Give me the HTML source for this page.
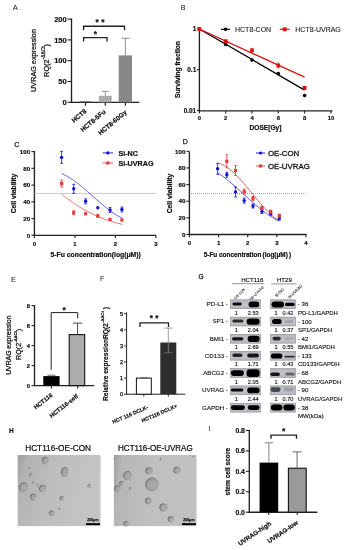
<!DOCTYPE html><html><head><meta charset="utf-8"><style>
html,body{margin:0;padding:0;background:#fff;width:344px;height:550px;overflow:hidden}
svg{display:block;will-change:transform}
text{font-family:"Liberation Sans",sans-serif}
</style></head><body>
<svg width="344" height="550" viewBox="0 0 344 550">
<text x="12.8" y="10.3" font-size="7.6" text-anchor="start" fill="#111">A</text>
<line x1="71.5" y1="18.5" x2="71.5" y2="102.8" stroke="#222" stroke-width="1.35"/>
<line x1="70.9" y1="102.3" x2="139.3" y2="102.3" stroke="#222" stroke-width="1.35"/>
<line x1="67.5" y1="102.3" x2="71.5" y2="102.3" stroke="#222" stroke-width="1.1"/>
<text x="66.7" y="104.89999999999999" font-size="7.5" font-weight="bold" text-anchor="end" fill="#111" stroke="#111" stroke-width="0.2">0</text>
<line x1="67.5" y1="81.5" x2="71.5" y2="81.5" stroke="#222" stroke-width="1.1"/>
<text x="66.7" y="84.1" font-size="7.5" font-weight="bold" text-anchor="end" fill="#111" stroke="#111" stroke-width="0.2">50</text>
<line x1="67.5" y1="60.699999999999996" x2="71.5" y2="60.699999999999996" stroke="#222" stroke-width="1.1"/>
<text x="66.7" y="63.3" font-size="7.5" font-weight="bold" text-anchor="end" fill="#111" stroke="#111" stroke-width="0.2">100</text>
<line x1="67.5" y1="39.89999999999999" x2="71.5" y2="39.89999999999999" stroke="#222" stroke-width="1.1"/>
<text x="66.7" y="42.49999999999999" font-size="7.5" font-weight="bold" text-anchor="end" fill="#111" stroke="#111" stroke-width="0.2">150</text>
<line x1="67.5" y1="19.099999999999994" x2="71.5" y2="19.099999999999994" stroke="#222" stroke-width="1.1"/>
<text x="66.7" y="21.699999999999996" font-size="7.5" font-weight="bold" text-anchor="end" fill="#111" stroke="#111" stroke-width="0.2">200</text>
<line x1="85.5" y1="102.3" x2="85.5" y2="105.8" stroke="#222" stroke-width="1.2"/>
<line x1="105.3" y1="102.3" x2="105.3" y2="105.8" stroke="#222" stroke-width="1.2"/>
<line x1="125.4" y1="102.3" x2="125.4" y2="105.8" stroke="#222" stroke-width="1.2"/>
<rect x="79.5" y="101.39999999999999" width="12" height="0.9" fill="#555" stroke="none" stroke-width="1"/>
<rect x="98.8" y="95.8" width="12.9" height="6.5" fill="#ababab" stroke="none" stroke-width="1"/>
<rect x="118.7" y="55.4" width="13.3" height="46.9" fill="#878787" stroke="none" stroke-width="1"/>
<line x1="105.3" y1="91.4" x2="105.3" y2="95.8" stroke="#888" stroke-width="0.9"/>
<line x1="101.8" y1="91.4" x2="108.8" y2="91.4" stroke="#888" stroke-width="0.9"/>
<line x1="125.4" y1="38.3" x2="125.4" y2="55.4" stroke="#888" stroke-width="0.9"/>
<line x1="121.5" y1="38.3" x2="129.7" y2="38.3" stroke="#888" stroke-width="0.9"/>
<polyline points="83.60,30.30 83.60,26.20 124.50,26.20 124.50,30.30" fill="none" stroke="#222" stroke-width="1.35"/>
<polyline points="83.60,41.50 83.60,37.60 107.00,37.60 107.00,41.50" fill="none" stroke="#222" stroke-width="1.35"/>
<text x="100.1" y="25.2" font-size="8.5" font-weight="bold" text-anchor="middle" fill="#111" stroke="#111" stroke-width="0.2">* *</text>
<text x="95.4" y="36.8" font-size="8.5" font-weight="bold" text-anchor="middle" fill="#111" stroke="#111" stroke-width="0.2">*</text>
<text x="36.4" y="60.5" font-size="7.26" text-anchor="middle" fill="#111" stroke="#111" stroke-width="0.25" transform="translate(36.4 60.5) rotate(-90) translate(-36.4 -60.5)">UVRAG expression</text>
<text x="48.6" y="60.4" font-size="7.3" text-anchor="middle" fill="#111" stroke="#111" stroke-width="0.25" transform="translate(48.6 60.4) rotate(-90) translate(-48.6 -60.4)">RQ(2<tspan font-size="4.9" dy="-3.9">-ΔΔCt</tspan><tspan dy="3.9">)</tspan></text>
<text x="87.0" y="112.0" font-size="6.5" font-weight="bold" text-anchor="end" fill="#111" stroke="#111" stroke-width="0.2" transform="translate(87.0 112.0) rotate(-40) translate(-87.0 -112.0)">HCT8</text>
<text x="106.2" y="112.5" font-size="6.5" font-weight="bold" text-anchor="end" fill="#111" stroke="#111" stroke-width="0.2" transform="translate(106.2 112.5) rotate(-40) translate(-106.2 -112.5)">HCT8-5Fu</text>
<text x="127.3" y="113.0" font-size="6.5" font-weight="bold" text-anchor="end" fill="#111" stroke="#111" stroke-width="0.2" transform="translate(127.3 113.0) rotate(-40) translate(-127.3 -113.0)">HCT8-60Gy</text>
<text x="180.8" y="10.0" font-size="7.2" text-anchor="start" fill="#111">B</text>
<line x1="199.4" y1="28.5" x2="199.4" y2="111.4" stroke="#222" stroke-width="1.35"/>
<line x1="198.8" y1="110.9" x2="332.5" y2="110.9" stroke="#222" stroke-width="1.35"/>
<line x1="196.9" y1="29.0" x2="199.4" y2="29.0" stroke="#222" stroke-width="1.1"/>
<text x="196.20000000000002" y="31.2" font-size="6.4" font-weight="bold" text-anchor="end" fill="#111" stroke="#111" stroke-width="0.2">1</text>
<line x1="196.9" y1="69.7" x2="199.4" y2="69.7" stroke="#222" stroke-width="1.1"/>
<text x="196.20000000000002" y="71.9" font-size="6.4" font-weight="bold" text-anchor="end" fill="#111" stroke="#111" stroke-width="0.2">0.1</text>
<line x1="196.9" y1="110.4" x2="199.4" y2="110.4" stroke="#222" stroke-width="1.1"/>
<text x="196.20000000000002" y="112.60000000000001" font-size="6.4" font-weight="bold" text-anchor="end" fill="#111" stroke="#111" stroke-width="0.2">0.01</text>
<line x1="199.4" y1="110.9" x2="199.4" y2="113.4" stroke="#222" stroke-width="1.1"/>
<text x="199.4" y="120.4" font-size="5.8" font-weight="bold" text-anchor="middle" fill="#111" stroke="#111" stroke-width="0.2">0</text>
<line x1="225.70000000000002" y1="110.9" x2="225.70000000000002" y2="113.4" stroke="#222" stroke-width="1.1"/>
<text x="225.70000000000002" y="120.4" font-size="5.8" font-weight="bold" text-anchor="middle" fill="#111" stroke="#111" stroke-width="0.2">2</text>
<line x1="252.0" y1="110.9" x2="252.0" y2="113.4" stroke="#222" stroke-width="1.1"/>
<text x="252.0" y="120.4" font-size="5.8" font-weight="bold" text-anchor="middle" fill="#111" stroke="#111" stroke-width="0.2">4</text>
<line x1="278.3" y1="110.9" x2="278.3" y2="113.4" stroke="#222" stroke-width="1.1"/>
<text x="278.3" y="120.4" font-size="5.8" font-weight="bold" text-anchor="middle" fill="#111" stroke="#111" stroke-width="0.2">6</text>
<line x1="304.6" y1="110.9" x2="304.6" y2="113.4" stroke="#222" stroke-width="1.1"/>
<text x="304.6" y="120.4" font-size="5.8" font-weight="bold" text-anchor="middle" fill="#111" stroke="#111" stroke-width="0.2">8</text>
<line x1="330.9" y1="110.9" x2="330.9" y2="113.4" stroke="#222" stroke-width="1.1"/>
<text x="330.9" y="120.4" font-size="5.8" font-weight="bold" text-anchor="middle" fill="#111" stroke="#111" stroke-width="0.2">10</text>
<text x="265.5" y="130" font-size="6.6" font-weight="bold" text-anchor="middle" fill="#111" stroke="#111" stroke-width="0.2">DOSE[Gy]</text>
<text x="180.0" y="69.5" font-size="6.7" font-weight="bold" text-anchor="middle" fill="#111" stroke="#111" stroke-width="0.2" transform="translate(180.0 69.5) rotate(-90) translate(-180.0 -69.5)">Surviving fraction</text>
<line x1="199.4" y1="29.0" x2="304.6" y2="90.1" stroke="#000" stroke-width="1.3"/>
<line x1="199.4" y1="29.0" x2="304.6" y2="77.2" stroke="#e01010" stroke-width="1.3"/>
<circle cx="225.70000000000002" cy="44.5" r="1.8" fill="#000"/>
<circle cx="252.0" cy="60.1" r="1.8" fill="#000"/>
<circle cx="278.3" cy="73.6" r="1.8" fill="#000"/>
<circle cx="304.6" cy="95.5" r="1.8" fill="#000"/>
<rect x="197.5" y="27.1" width="3.8" height="3.8" fill="#e01010" stroke="none" stroke-width="1"/>
<line x1="225.70000000000002" y1="39.0" x2="225.70000000000002" y2="43.599999999999994" stroke="#e01010" stroke-width="0.8"/>
<rect x="223.8" y="39.4" width="3.8" height="3.8" fill="#e01010" stroke="none" stroke-width="1"/>
<line x1="252.0" y1="47.8" x2="252.0" y2="52.8" stroke="#e01010" stroke-width="0.8"/>
<rect x="250.1" y="48.4" width="3.8" height="3.8" fill="#e01010" stroke="none" stroke-width="1"/>
<line x1="278.3" y1="62.2" x2="278.3" y2="68.8" stroke="#e01010" stroke-width="0.8"/>
<rect x="276.40000000000003" y="63.6" width="3.8" height="3.8" fill="#e01010" stroke="none" stroke-width="1"/>
<line x1="304.6" y1="85.80000000000001" x2="304.6" y2="90.0" stroke="#e01010" stroke-width="0.8"/>
<rect x="302.70000000000005" y="86.0" width="3.8" height="3.8" fill="#e01010" stroke="none" stroke-width="1"/>
<circle cx="199.4" cy="29" r="1.6" fill="#e01010"/>
<line x1="221" y1="29.3" x2="230" y2="29.3" stroke="#000" stroke-width="1.2"/>
<circle cx="225.5" cy="29.3" r="1.8" fill="#000"/>
<text x="235" y="31.8" font-size="7" text-anchor="start" fill="#222" stroke="#222" stroke-width="0.1">HCT8-CON</text>
<line x1="279.7" y1="29.3" x2="289.6" y2="29.3" stroke="#e01010" stroke-width="1.2"/>
<rect x="282.8" y="27.4" width="3.8" height="3.8" fill="#e01010" stroke="none" stroke-width="1"/>
<text x="295.3" y="31.8" font-size="7" text-anchor="start" fill="#222" stroke="#222" stroke-width="0.1">HCT8-UVRAG</text>
<text x="14.2" y="147.2" font-size="7" text-anchor="start" fill="#111" stroke="#111" stroke-width="0.25">C</text>
<line x1="34.4" y1="151.1" x2="34.4" y2="235.8" stroke="#222" stroke-width="1.35"/>
<line x1="33.8" y1="235.3" x2="156" y2="235.3" stroke="#222" stroke-width="1.35"/>
<line x1="31.4" y1="235.3" x2="34.4" y2="235.3" stroke="#222" stroke-width="1.1"/>
<text x="30.2" y="237.5" font-size="6.2" font-weight="bold" text-anchor="end" fill="#111" stroke="#111" stroke-width="0.2">0</text>
<line x1="31.4" y1="218.56" x2="34.4" y2="218.56" stroke="#222" stroke-width="1.1"/>
<text x="30.2" y="220.76" font-size="6.2" font-weight="bold" text-anchor="end" fill="#111" stroke="#111" stroke-width="0.2">20</text>
<line x1="31.4" y1="201.82000000000002" x2="34.4" y2="201.82000000000002" stroke="#222" stroke-width="1.1"/>
<text x="30.2" y="204.02" font-size="6.2" font-weight="bold" text-anchor="end" fill="#111" stroke="#111" stroke-width="0.2">40</text>
<line x1="31.4" y1="185.08" x2="34.4" y2="185.08" stroke="#222" stroke-width="1.1"/>
<text x="30.2" y="187.28" font-size="6.2" font-weight="bold" text-anchor="end" fill="#111" stroke="#111" stroke-width="0.2">60</text>
<line x1="31.4" y1="168.34000000000003" x2="34.4" y2="168.34000000000003" stroke="#222" stroke-width="1.1"/>
<text x="30.2" y="170.54000000000002" font-size="6.2" font-weight="bold" text-anchor="end" fill="#111" stroke="#111" stroke-width="0.2">80</text>
<line x1="31.4" y1="151.60000000000002" x2="34.4" y2="151.60000000000002" stroke="#222" stroke-width="1.1"/>
<text x="30.2" y="153.8" font-size="6.2" font-weight="bold" text-anchor="end" fill="#111" stroke="#111" stroke-width="0.2">100</text>
<line x1="34.4" y1="235.3" x2="34.4" y2="238.10000000000002" stroke="#222" stroke-width="1.1"/>
<text x="34.4" y="245.9" font-size="6.0" font-weight="bold" text-anchor="middle" fill="#111" stroke="#111" stroke-width="0.2">0</text>
<line x1="74.9" y1="235.3" x2="74.9" y2="238.10000000000002" stroke="#222" stroke-width="1.1"/>
<text x="74.9" y="245.9" font-size="6.0" font-weight="bold" text-anchor="middle" fill="#111" stroke="#111" stroke-width="0.2">1</text>
<line x1="115.4" y1="235.3" x2="115.4" y2="238.10000000000002" stroke="#222" stroke-width="1.1"/>
<text x="115.4" y="245.9" font-size="6.0" font-weight="bold" text-anchor="middle" fill="#111" stroke="#111" stroke-width="0.2">2</text>
<line x1="155.9" y1="235.3" x2="155.9" y2="238.10000000000002" stroke="#222" stroke-width="1.1"/>
<text x="155.9" y="245.9" font-size="6.0" font-weight="bold" text-anchor="middle" fill="#111" stroke="#111" stroke-width="0.2">3</text>
<text x="95.7" y="257" font-size="6.8" font-weight="bold" text-anchor="middle" fill="#111" stroke="#111" stroke-width="0.2">5-Fu concentration(log(μM))</text>
<text x="16.4" y="193.5" font-size="6.8" font-weight="bold" text-anchor="middle" fill="#111" stroke="#111" stroke-width="0.2" transform="translate(16.4 193.5) rotate(-90) translate(-16.4 -193.5)">Cell viability</text>
<line x1="34.4" y1="193.45000000000002" x2="156" y2="193.45000000000002" stroke="#c4c4c4" stroke-width="0.9"/>
<polyline points="61.60,173.52 63.12,174.19 64.64,174.92 66.16,175.71 67.68,176.57 69.20,177.48 70.72,178.44 72.24,179.45 73.76,180.51 75.28,181.61 76.80,182.74 78.32,183.92 79.84,185.12 81.36,186.36 82.88,187.62 84.40,188.90 85.92,190.20 87.44,191.51 88.96,192.84 90.48,194.18 92.00,195.52 93.52,196.86 95.04,198.20 96.56,199.54 98.08,200.87 99.60,202.18 101.12,203.48 102.64,204.77 104.16,206.03 105.68,207.26 107.20,208.47 108.72,209.65 110.24,210.79 111.76,211.89 113.28,212.95 114.80,213.96 116.32,214.93 117.84,215.84 119.36,216.70 120.88,217.50 122.40,218.23" fill="none" stroke="#5050e8" stroke-width="0.9"/>
<polyline points="61.60,194.14 63.12,195.37 64.64,196.57 66.16,197.75 67.68,198.89 69.20,200.01 70.72,201.11 72.24,202.17 73.76,203.22 75.28,204.23 76.80,205.22 78.32,206.19 79.84,207.13 81.36,208.04 82.88,208.93 84.40,209.80 85.92,210.64 87.44,211.46 88.96,212.26 90.48,213.03 92.00,213.78 93.52,214.51 95.04,215.21 96.56,215.90 98.08,216.56 99.60,217.20 101.12,217.81 102.64,218.41 104.16,218.99 105.68,219.54 107.20,220.08 108.72,220.59 110.24,221.09 111.76,221.56 113.28,222.02 114.80,222.46 116.32,222.87 117.84,223.27 119.36,223.66 120.88,224.02 122.40,224.36" fill="none" stroke="#ee6060" stroke-width="0.9"/>
<line x1="61.6" y1="151.4" x2="61.6" y2="163.4" stroke="#1010e0" stroke-width="0.8"/>
<line x1="60.2" y1="151.4" x2="63.0" y2="151.4" stroke="#1010e0" stroke-width="0.8"/>
<line x1="60.2" y1="163.4" x2="63.0" y2="163.4" stroke="#1010e0" stroke-width="0.8"/>
<circle cx="61.6" cy="157.4" r="1.7" fill="#1010e0"/>
<line x1="73.7" y1="184.3" x2="73.7" y2="193.3" stroke="#1010e0" stroke-width="0.8"/>
<line x1="72.3" y1="184.3" x2="75.10000000000001" y2="184.3" stroke="#1010e0" stroke-width="0.8"/>
<line x1="72.3" y1="193.3" x2="75.10000000000001" y2="193.3" stroke="#1010e0" stroke-width="0.8"/>
<circle cx="73.7" cy="188.8" r="1.7" fill="#1010e0"/>
<line x1="85.6" y1="198.8" x2="85.6" y2="203.8" stroke="#1010e0" stroke-width="0.8"/>
<line x1="84.19999999999999" y1="198.8" x2="87.0" y2="198.8" stroke="#1010e0" stroke-width="0.8"/>
<line x1="84.19999999999999" y1="203.8" x2="87.0" y2="203.8" stroke="#1010e0" stroke-width="0.8"/>
<circle cx="85.6" cy="201.3" r="1.7" fill="#1010e0"/>
<circle cx="97.8" cy="207.7" r="1.7" fill="#1010e0"/>
<line x1="110" y1="207.5" x2="110" y2="212.5" stroke="#1010e0" stroke-width="0.8"/>
<line x1="108.6" y1="207.5" x2="111.4" y2="207.5" stroke="#1010e0" stroke-width="0.8"/>
<line x1="108.6" y1="212.5" x2="111.4" y2="212.5" stroke="#1010e0" stroke-width="0.8"/>
<circle cx="110" cy="210" r="1.7" fill="#1010e0"/>
<line x1="121.9" y1="207.0" x2="121.9" y2="212.0" stroke="#1010e0" stroke-width="0.8"/>
<line x1="120.5" y1="207.0" x2="123.30000000000001" y2="207.0" stroke="#1010e0" stroke-width="0.8"/>
<line x1="120.5" y1="212.0" x2="123.30000000000001" y2="212.0" stroke="#1010e0" stroke-width="0.8"/>
<circle cx="121.9" cy="209.5" r="1.7" fill="#1010e0"/>
<line x1="61.6" y1="180.0" x2="61.6" y2="187.0" stroke="#e83a3a" stroke-width="0.8"/>
<line x1="60.2" y1="180.0" x2="63.0" y2="180.0" stroke="#e83a3a" stroke-width="0.8"/>
<line x1="60.2" y1="187.0" x2="63.0" y2="187.0" stroke="#e83a3a" stroke-width="0.8"/>
<rect x="60.0" y="181.9" width="3.2" height="3.2" fill="#e83a3a" stroke="none" stroke-width="1"/>
<line x1="73.7" y1="210.7" x2="73.7" y2="214.7" stroke="#e83a3a" stroke-width="0.8"/>
<line x1="72.3" y1="210.7" x2="75.10000000000001" y2="210.7" stroke="#e83a3a" stroke-width="0.8"/>
<line x1="72.3" y1="214.7" x2="75.10000000000001" y2="214.7" stroke="#e83a3a" stroke-width="0.8"/>
<rect x="72.10000000000001" y="211.1" width="3.2" height="3.2" fill="#e83a3a" stroke="none" stroke-width="1"/>
<rect x="84.0" y="212.20000000000002" width="3.2" height="3.2" fill="#e83a3a" stroke="none" stroke-width="1"/>
<line x1="97.8" y1="214.4" x2="97.8" y2="217.4" stroke="#e83a3a" stroke-width="0.8"/>
<line x1="96.39999999999999" y1="214.4" x2="99.2" y2="214.4" stroke="#e83a3a" stroke-width="0.8"/>
<line x1="96.39999999999999" y1="217.4" x2="99.2" y2="217.4" stroke="#e83a3a" stroke-width="0.8"/>
<rect x="96.2" y="214.3" width="3.2" height="3.2" fill="#e83a3a" stroke="none" stroke-width="1"/>
<rect x="108.4" y="217.8" width="3.2" height="3.2" fill="#e83a3a" stroke="none" stroke-width="1"/>
<rect x="120.30000000000001" y="218.4" width="3.2" height="3.2" fill="#e83a3a" stroke="none" stroke-width="1"/>
<line x1="102.6" y1="152.9" x2="113" y2="152.9" stroke="#1010e0" stroke-width="0.9"/>
<circle cx="107.8" cy="152.9" r="1.6" fill="#1010e0"/>
<text x="118.4" y="155.5" font-size="7.2" font-weight="bold" text-anchor="start" fill="#111" stroke="#111" stroke-width="0.2">Si-NC</text>
<line x1="102.6" y1="163" x2="113" y2="163" stroke="#e83a3a" stroke-width="0.9"/>
<rect x="106.2" y="161.4" width="3.2" height="3.2" fill="#e83a3a" stroke="none" stroke-width="1"/>
<text x="118.4" y="165.6" font-size="7.2" font-weight="bold" text-anchor="start" fill="#111" stroke="#111" stroke-width="0.2">Si-UVRAG</text>
<text x="182.8" y="143.6" font-size="7" text-anchor="start" fill="#111" stroke="#111" stroke-width="0.25">D</text>
<line x1="189.4" y1="151.5" x2="189.4" y2="235.0" stroke="#222" stroke-width="1.35"/>
<line x1="188.8" y1="234.5" x2="306.5" y2="234.5" stroke="#222" stroke-width="1.35"/>
<line x1="186.4" y1="234.5" x2="189.4" y2="234.5" stroke="#222" stroke-width="1.1"/>
<text x="185.4" y="236.7" font-size="6.2" font-weight="bold" text-anchor="end" fill="#111" stroke="#111" stroke-width="0.2">0</text>
<line x1="186.4" y1="217.86" x2="189.4" y2="217.86" stroke="#222" stroke-width="1.1"/>
<text x="185.4" y="220.06" font-size="6.2" font-weight="bold" text-anchor="end" fill="#111" stroke="#111" stroke-width="0.2">20</text>
<line x1="186.4" y1="201.22" x2="189.4" y2="201.22" stroke="#222" stroke-width="1.1"/>
<text x="185.4" y="203.42" font-size="6.2" font-weight="bold" text-anchor="end" fill="#111" stroke="#111" stroke-width="0.2">40</text>
<line x1="186.4" y1="184.58" x2="189.4" y2="184.58" stroke="#222" stroke-width="1.1"/>
<text x="185.4" y="186.78" font-size="6.2" font-weight="bold" text-anchor="end" fill="#111" stroke="#111" stroke-width="0.2">60</text>
<line x1="186.4" y1="167.94" x2="189.4" y2="167.94" stroke="#222" stroke-width="1.1"/>
<text x="185.4" y="170.14" font-size="6.2" font-weight="bold" text-anchor="end" fill="#111" stroke="#111" stroke-width="0.2">80</text>
<line x1="186.4" y1="151.3" x2="189.4" y2="151.3" stroke="#222" stroke-width="1.1"/>
<text x="185.4" y="153.5" font-size="6.2" font-weight="bold" text-anchor="end" fill="#111" stroke="#111" stroke-width="0.2">100</text>
<line x1="189.4" y1="234.5" x2="189.4" y2="237.3" stroke="#222" stroke-width="1.1"/>
<text x="189.4" y="244.7" font-size="6.0" font-weight="bold" text-anchor="middle" fill="#111" stroke="#111" stroke-width="0.2">0</text>
<line x1="218.55" y1="234.5" x2="218.55" y2="237.3" stroke="#222" stroke-width="1.1"/>
<text x="218.55" y="244.7" font-size="6.0" font-weight="bold" text-anchor="middle" fill="#111" stroke="#111" stroke-width="0.2">1</text>
<line x1="247.7" y1="234.5" x2="247.7" y2="237.3" stroke="#222" stroke-width="1.1"/>
<text x="247.7" y="244.7" font-size="6.0" font-weight="bold" text-anchor="middle" fill="#111" stroke="#111" stroke-width="0.2">2</text>
<line x1="276.85" y1="234.5" x2="276.85" y2="237.3" stroke="#222" stroke-width="1.1"/>
<text x="276.85" y="244.7" font-size="6.0" font-weight="bold" text-anchor="middle" fill="#111" stroke="#111" stroke-width="0.2">3</text>
<line x1="306.0" y1="234.5" x2="306.0" y2="237.3" stroke="#222" stroke-width="1.1"/>
<text x="306.0" y="244.7" font-size="6.0" font-weight="bold" text-anchor="middle" fill="#111" stroke="#111" stroke-width="0.2">4</text>
<text x="247.5" y="256.8" font-size="6.4" font-weight="bold" text-anchor="middle" fill="#111" stroke="#111" stroke-width="0.2">5-Fu concentration (log(μM) )</text>
<text x="172.3" y="193.5" font-size="6.8" font-weight="bold" text-anchor="middle" fill="#111" stroke="#111" stroke-width="0.2" transform="translate(172.3 193.5) rotate(-90) translate(-172.3 -193.5)">Cell viability</text>
<line x1="191" y1="193.6" x2="305.6" y2="193.6" stroke="#888" stroke-width="0.9" stroke-dasharray="1 1"/>
<polyline points="217.60,163.07 219.13,163.45 220.66,163.96 222.19,164.60 223.72,165.36 225.25,166.23 226.78,167.20 228.31,168.28 229.84,169.45 231.37,170.71 232.90,172.06 234.43,173.48 235.96,174.97 237.49,176.52 239.02,178.13 240.55,179.79 242.08,181.50 243.61,183.25 245.14,185.04 246.67,186.85 248.20,188.68 249.73,190.53 251.26,192.38 252.79,194.24 254.32,196.10 255.85,197.95 257.38,199.78 258.91,201.59 260.44,203.38 261.97,205.13 263.50,206.84 265.03,208.51 266.56,210.13 268.09,211.68 269.62,213.18 271.15,214.60 272.68,215.95 274.21,217.22 275.74,218.39 277.27,219.48 278.80,220.46" fill="none" stroke="#c85050" stroke-width="0.9"/>
<polyline points="217.60,172.72 219.13,173.74 220.66,174.81 222.19,175.92 223.72,177.07 225.25,178.25 226.78,179.46 228.31,180.70 229.84,181.97 231.37,183.26 232.90,184.57 234.43,185.90 235.96,187.25 237.49,188.62 239.02,189.99 240.55,191.37 242.08,192.76 243.61,194.15 245.14,195.54 246.67,196.93 248.20,198.31 249.73,199.69 251.26,201.06 252.79,202.41 254.32,203.75 255.85,205.08 257.38,206.38 258.91,207.66 260.44,208.91 261.97,210.14 263.50,211.34 265.03,212.50 266.56,213.63 268.09,214.72 269.62,215.77 271.15,216.77 272.68,217.73 274.21,218.64 275.74,219.50 277.27,220.30 278.80,221.05" fill="none" stroke="#4848c8" stroke-width="0.9"/>
<line x1="217.6" y1="163.3" x2="217.6" y2="174.3" stroke="#1010e0" stroke-width="0.8"/>
<line x1="216.2" y1="163.3" x2="219.0" y2="163.3" stroke="#1010e0" stroke-width="0.8"/>
<line x1="216.2" y1="174.3" x2="219.0" y2="174.3" stroke="#1010e0" stroke-width="0.8"/>
<circle cx="217.6" cy="168.8" r="1.7" fill="#1010e0"/>
<line x1="226.8" y1="172.3" x2="226.8" y2="177.3" stroke="#1010e0" stroke-width="0.8"/>
<line x1="225.4" y1="172.3" x2="228.20000000000002" y2="172.3" stroke="#1010e0" stroke-width="0.8"/>
<line x1="225.4" y1="177.3" x2="228.20000000000002" y2="177.3" stroke="#1010e0" stroke-width="0.8"/>
<circle cx="226.8" cy="174.8" r="1.7" fill="#1010e0"/>
<line x1="235.5" y1="186.9" x2="235.5" y2="196.9" stroke="#1010e0" stroke-width="0.8"/>
<line x1="234.1" y1="186.9" x2="236.9" y2="186.9" stroke="#1010e0" stroke-width="0.8"/>
<line x1="234.1" y1="196.9" x2="236.9" y2="196.9" stroke="#1010e0" stroke-width="0.8"/>
<circle cx="235.5" cy="191.9" r="1.7" fill="#1010e0"/>
<line x1="244.2" y1="198.1" x2="244.2" y2="203.1" stroke="#1010e0" stroke-width="0.8"/>
<line x1="242.79999999999998" y1="198.1" x2="245.6" y2="198.1" stroke="#1010e0" stroke-width="0.8"/>
<line x1="242.79999999999998" y1="203.1" x2="245.6" y2="203.1" stroke="#1010e0" stroke-width="0.8"/>
<circle cx="244.2" cy="200.6" r="1.7" fill="#1010e0"/>
<line x1="253" y1="204" x2="253" y2="208" stroke="#1010e0" stroke-width="0.8"/>
<line x1="251.6" y1="204" x2="254.4" y2="204" stroke="#1010e0" stroke-width="0.8"/>
<line x1="251.6" y1="208" x2="254.4" y2="208" stroke="#1010e0" stroke-width="0.8"/>
<circle cx="253" cy="206" r="1.7" fill="#1010e0"/>
<line x1="261.9" y1="209.6" x2="261.9" y2="213.6" stroke="#1010e0" stroke-width="0.8"/>
<line x1="260.5" y1="209.6" x2="263.29999999999995" y2="209.6" stroke="#1010e0" stroke-width="0.8"/>
<line x1="260.5" y1="213.6" x2="263.29999999999995" y2="213.6" stroke="#1010e0" stroke-width="0.8"/>
<circle cx="261.9" cy="211.6" r="1.7" fill="#1010e0"/>
<line x1="270.7" y1="212.2" x2="270.7" y2="215.2" stroke="#1010e0" stroke-width="0.8"/>
<line x1="269.3" y1="212.2" x2="272.09999999999997" y2="212.2" stroke="#1010e0" stroke-width="0.8"/>
<line x1="269.3" y1="215.2" x2="272.09999999999997" y2="215.2" stroke="#1010e0" stroke-width="0.8"/>
<circle cx="270.7" cy="213.7" r="1.7" fill="#1010e0"/>
<line x1="279.3" y1="217.1" x2="279.3" y2="220.1" stroke="#1010e0" stroke-width="0.8"/>
<line x1="277.90000000000003" y1="217.1" x2="280.7" y2="217.1" stroke="#1010e0" stroke-width="0.8"/>
<line x1="277.90000000000003" y1="220.1" x2="280.7" y2="220.1" stroke="#1010e0" stroke-width="0.8"/>
<circle cx="279.3" cy="218.6" r="1.7" fill="#1010e0"/>
<line x1="226.8" y1="154.8" x2="226.8" y2="167.8" stroke="#e83a3a" stroke-width="0.8"/>
<line x1="225.4" y1="154.8" x2="228.20000000000002" y2="154.8" stroke="#e83a3a" stroke-width="0.8"/>
<line x1="225.4" y1="167.8" x2="228.20000000000002" y2="167.8" stroke="#e83a3a" stroke-width="0.8"/>
<rect x="225.20000000000002" y="159.70000000000002" width="3.2" height="3.2" fill="#e83a3a" stroke="none" stroke-width="1"/>
<line x1="235.5" y1="165.6" x2="235.5" y2="175.6" stroke="#e83a3a" stroke-width="0.8"/>
<line x1="234.1" y1="165.6" x2="236.9" y2="165.6" stroke="#e83a3a" stroke-width="0.8"/>
<line x1="234.1" y1="175.6" x2="236.9" y2="175.6" stroke="#e83a3a" stroke-width="0.8"/>
<rect x="233.9" y="169.0" width="3.2" height="3.2" fill="#e83a3a" stroke="none" stroke-width="1"/>
<line x1="244.2" y1="189.0" x2="244.2" y2="194.0" stroke="#e83a3a" stroke-width="0.8"/>
<line x1="242.79999999999998" y1="189.0" x2="245.6" y2="189.0" stroke="#e83a3a" stroke-width="0.8"/>
<line x1="242.79999999999998" y1="194.0" x2="245.6" y2="194.0" stroke="#e83a3a" stroke-width="0.8"/>
<rect x="242.6" y="189.9" width="3.2" height="3.2" fill="#e83a3a" stroke="none" stroke-width="1"/>
<line x1="253" y1="196.5" x2="253" y2="200.5" stroke="#e83a3a" stroke-width="0.8"/>
<line x1="251.6" y1="196.5" x2="254.4" y2="196.5" stroke="#e83a3a" stroke-width="0.8"/>
<line x1="251.6" y1="200.5" x2="254.4" y2="200.5" stroke="#e83a3a" stroke-width="0.8"/>
<rect x="251.4" y="196.9" width="3.2" height="3.2" fill="#e83a3a" stroke="none" stroke-width="1"/>
<line x1="261.9" y1="206.3" x2="261.9" y2="209.3" stroke="#e83a3a" stroke-width="0.8"/>
<line x1="260.5" y1="206.3" x2="263.29999999999995" y2="206.3" stroke="#e83a3a" stroke-width="0.8"/>
<line x1="260.5" y1="209.3" x2="263.29999999999995" y2="209.3" stroke="#e83a3a" stroke-width="0.8"/>
<rect x="260.29999999999995" y="206.20000000000002" width="3.2" height="3.2" fill="#e83a3a" stroke="none" stroke-width="1"/>
<line x1="270.7" y1="210.1" x2="270.7" y2="213.1" stroke="#e83a3a" stroke-width="0.8"/>
<line x1="269.3" y1="210.1" x2="272.09999999999997" y2="210.1" stroke="#e83a3a" stroke-width="0.8"/>
<line x1="269.3" y1="213.1" x2="272.09999999999997" y2="213.1" stroke="#e83a3a" stroke-width="0.8"/>
<rect x="269.09999999999997" y="210.0" width="3.2" height="3.2" fill="#e83a3a" stroke="none" stroke-width="1"/>
<line x1="279.3" y1="214.1" x2="279.3" y2="217.1" stroke="#e83a3a" stroke-width="0.8"/>
<line x1="277.90000000000003" y1="214.1" x2="280.7" y2="214.1" stroke="#e83a3a" stroke-width="0.8"/>
<line x1="277.90000000000003" y1="217.1" x2="280.7" y2="217.1" stroke="#e83a3a" stroke-width="0.8"/>
<rect x="277.7" y="214.0" width="3.2" height="3.2" fill="#e83a3a" stroke="none" stroke-width="1"/>
<line x1="256" y1="153" x2="265.3" y2="153" stroke="#1010e0" stroke-width="0.9"/>
<circle cx="260.5" cy="153" r="1.6" fill="#1010e0"/>
<text x="267.9" y="155.8" font-size="7.85" text-anchor="start" fill="#111" stroke="#111" stroke-width="0.3">OE-CON</text>
<line x1="256" y1="166" x2="265.3" y2="166" stroke="#e83a3a" stroke-width="0.9"/>
<rect x="258.9" y="164.4" width="3.2" height="3.2" fill="#e83a3a" stroke="none" stroke-width="1"/>
<text x="267.9" y="168.8" font-size="7.85" text-anchor="start" fill="#111" stroke="#111" stroke-width="0.3">OE-UVRAG</text>
<text x="11.0" y="281.7" font-size="7.2" text-anchor="start" fill="#111">E</text>
<line x1="34.5" y1="305.0" x2="34.5" y2="386.1" stroke="#222" stroke-width="1.35"/>
<line x1="33.9" y1="385.6" x2="94.2" y2="385.6" stroke="#222" stroke-width="1.35"/>
<line x1="31.5" y1="385.6" x2="34.5" y2="385.6" stroke="#222" stroke-width="1.1"/>
<text x="30.1" y="387.70000000000005" font-size="5.8" font-weight="bold" text-anchor="end" fill="#111" stroke="#111" stroke-width="0.2">0</text>
<line x1="31.5" y1="365.6" x2="34.5" y2="365.6" stroke="#222" stroke-width="1.1"/>
<text x="30.1" y="367.70000000000005" font-size="5.8" font-weight="bold" text-anchor="end" fill="#111" stroke="#111" stroke-width="0.2">2</text>
<line x1="31.5" y1="345.6" x2="34.5" y2="345.6" stroke="#222" stroke-width="1.1"/>
<text x="30.1" y="347.70000000000005" font-size="5.8" font-weight="bold" text-anchor="end" fill="#111" stroke="#111" stroke-width="0.2">4</text>
<line x1="31.5" y1="325.6" x2="34.5" y2="325.6" stroke="#222" stroke-width="1.1"/>
<text x="30.1" y="327.70000000000005" font-size="5.8" font-weight="bold" text-anchor="end" fill="#111" stroke="#111" stroke-width="0.2">6</text>
<line x1="31.5" y1="305.6" x2="34.5" y2="305.6" stroke="#222" stroke-width="1.1"/>
<text x="30.1" y="307.70000000000005" font-size="5.8" font-weight="bold" text-anchor="end" fill="#111" stroke="#111" stroke-width="0.2">8</text>
<line x1="51.4" y1="385.6" x2="51.4" y2="388.40000000000003" stroke="#222" stroke-width="1.1"/>
<line x1="77.6" y1="385.6" x2="77.6" y2="388.40000000000003" stroke="#222" stroke-width="1.1"/>
<rect x="43.3" y="376.1" width="16.3" height="9.5" fill="#000" stroke="none" stroke-width="1"/>
<line x1="47.5" y1="375.2" x2="55.5" y2="375.2" stroke="#444" stroke-width="0.8"/>
<rect x="69.2" y="334.6" width="15.5" height="51.0" fill="#acacac" stroke="#111" stroke-width="1.1"/>
<line x1="77.6" y1="323.1" x2="77.6" y2="334.1" stroke="#333" stroke-width="0.9"/>
<line x1="72.9" y1="323.1" x2="82.3" y2="323.1" stroke="#333" stroke-width="0.9"/>
<polyline points="51.20,369.80 51.20,312.60 77.70,312.60 77.70,318.40" fill="none" stroke="#222" stroke-width="1.0"/>
<text x="64.1" y="313.2" font-size="8.5" font-weight="bold" text-anchor="middle" fill="#111" stroke="#111" stroke-width="0.2">*</text>
<text x="11.2" y="345.2" font-size="6.85" text-anchor="middle" fill="#111" stroke="#111" stroke-width="0.25" transform="translate(11.2 345.2) rotate(-90) translate(-11.2 -345.2)">UVRAG expression</text>
<text x="21.2" y="344.4" font-size="7.2" text-anchor="middle" fill="#111" stroke="#111" stroke-width="0.25" transform="translate(21.2 344.4) rotate(-90) translate(-21.2 -344.4)">RQ(2<tspan font-size="4.3" dy="-3.8">-ΔΔCt</tspan><tspan dy="3.8">)</tspan></text>
<text x="53.1" y="396.0" font-size="6.0" font-weight="bold" text-anchor="end" fill="#111" stroke="#111" stroke-width="0.2" transform="translate(53.1 396.0) rotate(-38) translate(-53.1 -396.0)">HCT116</text>
<text x="78.6" y="397.0" font-size="6.0" font-weight="bold" text-anchor="end" fill="#111" stroke="#111" stroke-width="0.2" transform="translate(78.6 397.0) rotate(-38) translate(-78.6 -397.0)">HCT116-self</text>
<text x="99.9" y="280.6" font-size="7.0" text-anchor="start" fill="#111">F</text>
<line x1="126.6" y1="312.3" x2="126.6" y2="394.7" stroke="#222" stroke-width="1.0"/>
<line x1="126.0" y1="394.2" x2="185.3" y2="394.2" stroke="#222" stroke-width="1.0"/>
<line x1="124.0" y1="394.2" x2="126.6" y2="394.2" stroke="#222" stroke-width="0.9"/>
<text x="123.0" y="396.2" font-size="5.6" text-anchor="end" fill="#111" stroke="#111" stroke-width="0.25">0</text>
<line x1="124.0" y1="378.09999999999997" x2="126.6" y2="378.09999999999997" stroke="#222" stroke-width="0.9"/>
<text x="123.0" y="380.09999999999997" font-size="5.6" text-anchor="end" fill="#111" stroke="#111" stroke-width="0.25">1</text>
<line x1="124.0" y1="362.0" x2="126.6" y2="362.0" stroke="#222" stroke-width="0.9"/>
<text x="123.0" y="364.0" font-size="5.6" text-anchor="end" fill="#111" stroke="#111" stroke-width="0.25">2</text>
<line x1="124.0" y1="345.9" x2="126.6" y2="345.9" stroke="#222" stroke-width="0.9"/>
<text x="123.0" y="347.9" font-size="5.6" text-anchor="end" fill="#111" stroke="#111" stroke-width="0.25">3</text>
<line x1="124.0" y1="329.79999999999995" x2="126.6" y2="329.79999999999995" stroke="#222" stroke-width="0.9"/>
<text x="123.0" y="331.79999999999995" font-size="5.6" text-anchor="end" fill="#111" stroke="#111" stroke-width="0.25">4</text>
<line x1="124.0" y1="313.7" x2="126.6" y2="313.7" stroke="#222" stroke-width="0.9"/>
<text x="123.0" y="315.7" font-size="5.6" text-anchor="end" fill="#111" stroke="#111" stroke-width="0.25">5</text>
<line x1="143.8" y1="394.2" x2="143.8" y2="396.7" stroke="#222" stroke-width="0.9"/>
<line x1="168.3" y1="394.2" x2="168.3" y2="396.7" stroke="#222" stroke-width="0.9"/>
<rect x="136.4" y="378.09999999999997" width="14.9" height="16.100000000000023" fill="#fff" stroke="#111" stroke-width="1.0"/>
<line x1="140.5" y1="377.49999999999994" x2="147.5" y2="377.49999999999994" stroke="#555" stroke-width="0.7"/>
<rect x="160.3" y="342.5" width="16" height="51.69999999999999" fill="#2e2e2e" stroke="none" stroke-width="1"/>
<line x1="168.3" y1="328.1" x2="168.3" y2="352.8" stroke="#888" stroke-width="0.8"/>
<line x1="164" y1="328.1" x2="172.6" y2="328.1" stroke="#888" stroke-width="0.8"/>
<line x1="164" y1="352.8" x2="172.6" y2="352.8" stroke="#777" stroke-width="0.7"/>
<polyline points="140.00,326.90 140.00,322.90 168.50,322.90 168.50,326.90" fill="none" stroke="#222" stroke-width="1.3"/>
<text x="154.0" y="321.2" font-size="8.2" font-weight="bold" text-anchor="middle" fill="#111" stroke="#111" stroke-width="0.2">* *</text>
<text x="107.7" y="354" font-size="6.6" font-weight="bold" text-anchor="middle" fill="#111" stroke="#111" stroke-width="0.15" transform="translate(107.7 354) rotate(-90) translate(-107.7 -354)">Relative expressionRQ(2<tspan font-size="4.3" dy="-3.4">-ΔΔCt</tspan><tspan dy="3.4"> )</tspan></text>
<text x="148.7" y="408.5" font-size="5.25" font-weight="bold" text-anchor="end" fill="#111" stroke="#111" stroke-width="0.2" transform="translate(148.7 408.5) rotate(-23.5) translate(-148.7 -408.5)">HCT 116 DCLK-</text>
<text x="177.7" y="407.3" font-size="5.25" font-weight="bold" text-anchor="end" fill="#111" stroke="#111" stroke-width="0.2" transform="translate(177.7 407.3) rotate(-23.5) translate(-177.7 -407.3)">HCT116 DCLK+</text>
<text x="208.6" y="431.0" font-size="7.0" text-anchor="start" fill="#111">I</text>
<line x1="249.3" y1="429.9" x2="249.3" y2="512.7" stroke="#222" stroke-width="1.35"/>
<line x1="248.70000000000002" y1="512.2" x2="317.4" y2="512.2" stroke="#222" stroke-width="1.35"/>
<line x1="245.8" y1="512.2" x2="249.3" y2="512.2" stroke="#222" stroke-width="1.1"/>
<text x="244.9" y="514.6" font-size="6.8" font-weight="bold" text-anchor="end" fill="#111" stroke="#111" stroke-width="0.2">0.0</text>
<line x1="245.8" y1="491.76000000000005" x2="249.3" y2="491.76000000000005" stroke="#222" stroke-width="1.1"/>
<text x="244.9" y="494.16" font-size="6.8" font-weight="bold" text-anchor="end" fill="#111" stroke="#111" stroke-width="0.2">0.2</text>
<line x1="245.8" y1="471.32000000000005" x2="249.3" y2="471.32000000000005" stroke="#222" stroke-width="1.1"/>
<text x="244.9" y="473.72" font-size="6.8" font-weight="bold" text-anchor="end" fill="#111" stroke="#111" stroke-width="0.2">0.4</text>
<line x1="245.8" y1="450.88000000000005" x2="249.3" y2="450.88000000000005" stroke="#222" stroke-width="1.1"/>
<text x="244.9" y="453.28000000000003" font-size="6.8" font-weight="bold" text-anchor="end" fill="#111" stroke="#111" stroke-width="0.2">0.6</text>
<line x1="245.8" y1="430.44000000000005" x2="249.3" y2="430.44000000000005" stroke="#222" stroke-width="1.1"/>
<text x="244.9" y="432.84000000000003" font-size="6.8" font-weight="bold" text-anchor="end" fill="#111" stroke="#111" stroke-width="0.2">0.8</text>
<line x1="268.7" y1="512.2" x2="268.7" y2="515.0" stroke="#222" stroke-width="1.1"/>
<line x1="297.2" y1="512.2" x2="297.2" y2="515.0" stroke="#222" stroke-width="1.1"/>
<rect x="259.6" y="462.6" width="18.6" height="49.60000000000002" fill="#000" stroke="none" stroke-width="1"/>
<rect x="288.4" y="468.2" width="17.8" height="44.00000000000006" fill="#9a9a9a" stroke="#111" stroke-width="1.1"/>
<line x1="268.9" y1="442.8" x2="268.9" y2="462.6" stroke="#777" stroke-width="0.9"/>
<line x1="264.7" y1="442.8" x2="273.3" y2="442.8" stroke="#777" stroke-width="0.9"/>
<line x1="297.1" y1="451.9" x2="297.1" y2="467.7" stroke="#555" stroke-width="0.9"/>
<line x1="292.6" y1="451.9" x2="301.6" y2="451.9" stroke="#555" stroke-width="0.9"/>
<polyline points="271.00,438.80 271.00,435.10 296.50,435.10 296.50,438.80" fill="none" stroke="#222" stroke-width="1.4"/>
<text x="283.7" y="433.6" font-size="8.5" font-weight="bold" text-anchor="middle" fill="#111" stroke="#111" stroke-width="0.2">*</text>
<text x="229.7" y="471.7" font-size="6.6" font-weight="bold" text-anchor="middle" fill="#111" stroke="#111" stroke-width="0.2" transform="translate(229.7 471.7) rotate(-90) translate(-229.7 -471.7)">stem cell score</text>
<text x="271.6" y="524.6" font-size="6.3" font-weight="bold" text-anchor="end" fill="#111" stroke="#111" stroke-width="0.2" transform="translate(271.6 524.6) rotate(-34) translate(-271.6 -524.6)">UVRAG-high</text>
<text x="298.6" y="523.8" font-size="6.3" font-weight="bold" text-anchor="end" fill="#111" stroke="#111" stroke-width="0.2" transform="translate(298.6 523.8) rotate(-34) translate(-298.6 -523.8)">UVRAG-low</text>
<defs><filter id="bl" x="-30%" y="-60%" width="160%" height="220%"><feGaussianBlur stdDeviation="0.55"/></filter><filter id="bl2" x="-30%" y="-60%" width="160%" height="220%"><feGaussianBlur stdDeviation="0.9"/></filter><linearGradient id="boxg" x1="0" y1="0" x2="0" y2="1"><stop offset="0" stop-color="#b4b4bc"/><stop offset="0.5" stop-color="#c6c6cc"/><stop offset="1" stop-color="#b6b6bc"/></linearGradient></defs>
<text x="198.6" y="278.6" font-size="6.6" text-anchor="start" fill="#111" stroke="#111" stroke-width="0.25">G</text>
<text x="252.3" y="282.3" font-size="6.1" text-anchor="middle" fill="#111" stroke="#111" stroke-width="0.15">HCT116</text>
<line x1="231.9" y1="283.7" x2="264.4" y2="283.7" stroke="#666" stroke-width="0.7"/>
<text x="284.4" y="282.3" font-size="6.1" text-anchor="middle" fill="#111" stroke="#111" stroke-width="0.15">HT29</text>
<line x1="271" y1="283.9" x2="296.6" y2="283.9" stroke="#666" stroke-width="0.7"/>
<text x="245.4" y="289.6" font-size="3.5" text-anchor="end" fill="#333" stroke="#333" stroke-width="0.1" transform="translate(245.4 289.6) rotate(-45) translate(-245.4 -289.6)">OE-CON</text>
<text x="264.2" y="287.4" font-size="3.6" text-anchor="end" fill="#333" stroke="#333" stroke-width="0.1" transform="translate(264.2 287.4) rotate(-45) translate(-264.2 -287.4)">OE-UVRAG</text>
<text x="284.4" y="289.6" font-size="4.2" text-anchor="end" fill="#333" stroke="#333" stroke-width="0.1" transform="translate(284.4 289.6) rotate(-45) translate(-284.4 -289.6)">Si-NC</text>
<text x="302.6" y="286.2" font-size="3.8" text-anchor="end" fill="#333" stroke="#333" stroke-width="0.1" transform="translate(302.6 286.2) rotate(-45) translate(-302.6 -286.2)">Si-UVRAG</text>
<rect x="230.3" y="299.8" width="30.2" height="8.9" fill="url(#boxg)" stroke="#8c8c94" stroke-width="0.6"/>
<rect x="270.6" y="299.8" width="25.0" height="8.9" fill="url(#boxg)" stroke="#8c8c94" stroke-width="0.6"/>
<rect x="232.4" y="302.6" width="9.40" height="2.80" rx="1.40" fill="#111" filter="url(#bl)"/>
<rect x="248.6" y="301.6" width="10.60" height="5.60" rx="2.80" fill="#000" filter="url(#bl)"/>
<rect x="271.5" y="301.4" width="12.50" height="6.00" rx="3.00" fill="#000" filter="url(#bl)"/>
<rect x="285.0" y="302.8" width="9.70" height="3.20" rx="1.60" fill="#000" filter="url(#bl)"/>
<text x="227.9" y="306.15" font-size="6.2" text-anchor="end" fill="#1a1a1a" stroke="#1a1a1a" stroke-width="0.15">PD-L1 -</text>
<text x="297.8" y="306.35" font-size="6.1" text-anchor="start" fill="#1a1a1a" stroke="#1a1a1a" stroke-width="0.15">- 36</text>
<text x="236.4" y="314.7" font-size="5.6" text-anchor="middle" fill="#1a1a1a" stroke="#1a1a1a" stroke-width="0.15">1</text>
<text x="253.2" y="314.7" font-size="5.6" text-anchor="middle" fill="#1a1a1a" stroke="#1a1a1a" stroke-width="0.15">2.53</text>
<text x="276.1" y="314.7" font-size="5.6" text-anchor="middle" fill="#1a1a1a" stroke="#1a1a1a" stroke-width="0.15">1</text>
<text x="288.0" y="314.7" font-size="5.6" text-anchor="middle" fill="#1a1a1a" stroke="#1a1a1a" stroke-width="0.15">0.42</text>
<text x="297.9" y="314.7" font-size="6.0" text-anchor="start" fill="#1a1a1a" stroke="#1a1a1a" stroke-width="0.15">PD-L1/GAPDH</text>
<rect x="230.3" y="317.1" width="30.2" height="8.9" fill="url(#boxg)" stroke="#8c8c94" stroke-width="0.6"/>
<rect x="270.6" y="317.1" width="25.0" height="8.9" fill="url(#boxg)" stroke="#8c8c94" stroke-width="0.6"/>
<rect x="232.4" y="319.6" width="11.00" height="3.00" rx="1.50" fill="#2a2a2a" filter="url(#bl)"/>
<rect x="246.6" y="318.5" width="13.00" height="6.20" rx="3.00" fill="#000" filter="url(#bl)"/>
<rect x="272.0" y="319.1" width="9.70" height="5.00" rx="2.50" fill="#000" filter="url(#bl)"/>
<rect x="284.5" y="320.0" width="9.20" height="3.00" rx="1.50" fill="#a4a4ac" filter="url(#bl)"/>
<text x="227.9" y="323.45" font-size="6.2" text-anchor="end" fill="#1a1a1a" stroke="#1a1a1a" stroke-width="0.15">SP1 -</text>
<text x="297.8" y="323.65000000000003" font-size="6.1" text-anchor="start" fill="#1a1a1a" stroke="#1a1a1a" stroke-width="0.15">- 100</text>
<text x="236.4" y="332.0" font-size="5.6" text-anchor="middle" fill="#1a1a1a" stroke="#1a1a1a" stroke-width="0.15">1</text>
<text x="253.2" y="332.0" font-size="5.6" text-anchor="middle" fill="#1a1a1a" stroke="#1a1a1a" stroke-width="0.15">2.04</text>
<text x="276.1" y="332.0" font-size="5.6" text-anchor="middle" fill="#1a1a1a" stroke="#1a1a1a" stroke-width="0.15">1</text>
<text x="288.0" y="332.0" font-size="5.6" text-anchor="middle" fill="#1a1a1a" stroke="#1a1a1a" stroke-width="0.15">0.37</text>
<text x="297.9" y="332.0" font-size="6.0" text-anchor="start" fill="#1a1a1a" stroke="#1a1a1a" stroke-width="0.15">SP1/GAPDH</text>
<rect x="230.3" y="334.3" width="30.2" height="8.9" fill="url(#boxg)" stroke="#8c8c94" stroke-width="0.6"/>
<rect x="270.6" y="334.3" width="25.0" height="8.9" fill="url(#boxg)" stroke="#8c8c94" stroke-width="0.6"/>
<rect x="232.0" y="337.3" width="11.40" height="3.10" rx="1.55" fill="#151515" filter="url(#bl)"/>
<rect x="247.6" y="335.8" width="12.00" height="6.10" rx="3.00" fill="#000" filter="url(#bl)"/>
<rect x="272.5" y="336.8" width="8.30" height="3.60" rx="1.80" fill="#2a2a2a" filter="url(#bl)"/>
<rect x="284.5" y="337.0" width="9.20" height="3.00" rx="1.50" fill="#acacb4" filter="url(#bl)"/>
<text x="227.9" y="340.65" font-size="6.2" text-anchor="end" fill="#1a1a1a" stroke="#1a1a1a" stroke-width="0.15">BMI1 -</text>
<text x="297.8" y="340.85" font-size="6.1" text-anchor="start" fill="#1a1a1a" stroke="#1a1a1a" stroke-width="0.15">- 42</text>
<text x="236.4" y="349.2" font-size="5.6" text-anchor="middle" fill="#1a1a1a" stroke="#1a1a1a" stroke-width="0.15">1</text>
<text x="253.2" y="349.2" font-size="5.6" text-anchor="middle" fill="#1a1a1a" stroke="#1a1a1a" stroke-width="0.15">2.69</text>
<text x="276.1" y="349.2" font-size="5.6" text-anchor="middle" fill="#1a1a1a" stroke="#1a1a1a" stroke-width="0.15">1</text>
<text x="288.0" y="349.2" font-size="5.6" text-anchor="middle" fill="#1a1a1a" stroke="#1a1a1a" stroke-width="0.15">0.55</text>
<text x="297.9" y="349.2" font-size="6.0" text-anchor="start" fill="#1a1a1a" stroke="#1a1a1a" stroke-width="0.15">BMI1/GAPDH</text>
<rect x="230.3" y="351.3" width="30.2" height="8.9" fill="url(#boxg)" stroke="#8c8c94" stroke-width="0.6"/>
<rect x="270.6" y="351.3" width="25.0" height="8.9" fill="url(#boxg)" stroke="#8c8c94" stroke-width="0.6"/>
<rect x="232.4" y="353.6" width="10.00" height="3.50" rx="1.75" fill="#222" filter="url(#bl)"/>
<rect x="247.2" y="353.6" width="11.80" height="4.00" rx="2.00" fill="#151515" filter="url(#bl)"/>
<rect x="270.9" y="353.5" width="11.50" height="5.10" rx="2.55" fill="#000" filter="url(#bl)"/>
<rect x="284.5" y="355.7" width="10.30" height="1.90" rx="0.95" fill="#2a2a2a" filter="url(#bl)"/>
<text x="227.9" y="357.65" font-size="6.2" text-anchor="end" fill="#1a1a1a" stroke="#1a1a1a" stroke-width="0.15">CD133 -</text>
<text x="297.8" y="357.85" font-size="6.1" text-anchor="start" fill="#1a1a1a" stroke="#1a1a1a" stroke-width="0.15">- 133</text>
<text x="236.4" y="366.2" font-size="5.6" text-anchor="middle" fill="#1a1a1a" stroke="#1a1a1a" stroke-width="0.15">1</text>
<text x="253.2" y="366.2" font-size="5.6" text-anchor="middle" fill="#1a1a1a" stroke="#1a1a1a" stroke-width="0.15">1.71</text>
<text x="276.1" y="366.2" font-size="5.6" text-anchor="middle" fill="#1a1a1a" stroke="#1a1a1a" stroke-width="0.15">1</text>
<text x="288.0" y="366.2" font-size="5.6" text-anchor="middle" fill="#1a1a1a" stroke="#1a1a1a" stroke-width="0.15">0.43</text>
<text x="297.9" y="366.2" font-size="6.0" text-anchor="start" fill="#1a1a1a" stroke="#1a1a1a" stroke-width="0.15">CD133/GAPDH</text>
<rect x="230.3" y="368.6" width="30.2" height="8.9" fill="url(#boxg)" stroke="#8c8c94" stroke-width="0.6"/>
<rect x="270.6" y="368.6" width="25.0" height="8.9" fill="url(#boxg)" stroke="#8c8c94" stroke-width="0.6"/>
<rect x="230.9" y="370.3" width="13.00" height="5.60" rx="2.80" fill="#000" filter="url(#bl)"/>
<rect x="246.6" y="369.2" width="13.00" height="7.80" rx="3.00" fill="#000" filter="url(#bl)"/>
<rect x="270.5" y="372.4" width="9.40" height="3.50" rx="1.75" fill="#141414" filter="url(#bl)"/>
<rect x="285.1" y="372.6" width="9.70" height="3.00" rx="1.50" fill="#6a6a6a" filter="url(#bl)"/>
<text x="227.9" y="374.95" font-size="6.2" text-anchor="end" fill="#1a1a1a" stroke="#1a1a1a" stroke-width="0.15">ABCG2 -</text>
<text x="297.8" y="375.15000000000003" font-size="6.1" text-anchor="start" fill="#1a1a1a" stroke="#1a1a1a" stroke-width="0.15">- 68</text>
<text x="236.4" y="383.5" font-size="5.6" text-anchor="middle" fill="#1a1a1a" stroke="#1a1a1a" stroke-width="0.15">1</text>
<text x="253.2" y="383.5" font-size="5.6" text-anchor="middle" fill="#1a1a1a" stroke="#1a1a1a" stroke-width="0.15">2.05</text>
<text x="276.1" y="383.5" font-size="5.6" text-anchor="middle" fill="#1a1a1a" stroke="#1a1a1a" stroke-width="0.15">1</text>
<text x="288.0" y="383.5" font-size="5.6" text-anchor="middle" fill="#1a1a1a" stroke="#1a1a1a" stroke-width="0.15">0.71</text>
<text x="297.9" y="383.5" font-size="6.0" text-anchor="start" fill="#1a1a1a" stroke="#1a1a1a" stroke-width="0.15">ABCG2/GAPDH</text>
<rect x="230.3" y="385.9" width="30.2" height="8.9" fill="url(#boxg)" stroke="#8c8c94" stroke-width="0.6"/>
<rect x="270.6" y="385.9" width="25.0" height="8.9" fill="url(#boxg)" stroke="#8c8c94" stroke-width="0.6"/>
<rect x="230.9" y="388.6" width="12.50" height="3.00" rx="1.50" fill="#0c0c0c" filter="url(#bl)"/>
<rect x="247.2" y="387.6" width="12.40" height="5.60" rx="2.80" fill="#000" filter="url(#bl)"/>
<rect x="270.5" y="387.2" width="10.10" height="4.70" rx="2.35" fill="#4a4a52" filter="url(#bl)"/>
<rect x="283.5" y="387.5" width="10.50" height="4.00" rx="2.00" fill="#a0a0a8" filter="url(#bl)"/>
<text x="227.9" y="392.24999999999994" font-size="6.2" text-anchor="end" fill="#1a1a1a" stroke="#1a1a1a" stroke-width="0.15">UVRAG -</text>
<text x="297.8" y="392.45" font-size="6.1" text-anchor="start" fill="#1a1a1a" stroke="#1a1a1a" stroke-width="0.15">- 90</text>
<text x="236.4" y="400.79999999999995" font-size="5.6" text-anchor="middle" fill="#1a1a1a" stroke="#1a1a1a" stroke-width="0.15">1</text>
<text x="253.2" y="400.79999999999995" font-size="5.6" text-anchor="middle" fill="#1a1a1a" stroke="#1a1a1a" stroke-width="0.15">2.44</text>
<text x="276.1" y="400.79999999999995" font-size="5.6" text-anchor="middle" fill="#1a1a1a" stroke="#1a1a1a" stroke-width="0.15">1</text>
<text x="288.0" y="400.79999999999995" font-size="5.6" text-anchor="middle" fill="#1a1a1a" stroke="#1a1a1a" stroke-width="0.15">0.70</text>
<text x="297.9" y="400.79999999999995" font-size="6.0" text-anchor="start" fill="#1a1a1a" stroke="#1a1a1a" stroke-width="0.15">UVRAG/GAPDH</text>
<rect x="230.3" y="403.2" width="30.2" height="8.9" fill="url(#boxg)" stroke="#8c8c94" stroke-width="0.6"/>
<rect x="270.6" y="403.2" width="25.0" height="8.9" fill="url(#boxg)" stroke="#8c8c94" stroke-width="0.6"/>
<rect x="230.9" y="405.3" width="14.00" height="4.60" rx="2.30" fill="#000" filter="url(#bl)"/>
<rect x="247.7" y="405.3" width="11.90" height="4.60" rx="2.30" fill="#000" filter="url(#bl)"/>
<rect x="270.9" y="404.5" width="11.50" height="6.00" rx="3.00" fill="#000" filter="url(#bl)"/>
<rect x="283.3" y="404.5" width="11.50" height="6.00" rx="3.00" fill="#000" filter="url(#bl)"/>
<text x="227.9" y="409.54999999999995" font-size="6.2" text-anchor="end" fill="#1a1a1a" stroke="#1a1a1a" stroke-width="0.15">GAPDH -</text>
<text x="297.8" y="409.75" font-size="6.1" text-anchor="start" fill="#1a1a1a" stroke="#1a1a1a" stroke-width="0.15">- 38</text>
<text x="298.0" y="417.8" font-size="6.1" text-anchor="start" fill="#1a1a1a" stroke="#1a1a1a" stroke-width="0.15">MW(kDa)</text>
<text x="9.0" y="432.8" font-size="6.6" font-weight="bold" text-anchor="start" fill="#111" stroke="#111" stroke-width="0.2">H</text>
<text x="25.2" y="450.8" font-size="9.0" text-anchor="start" fill="#111" stroke="#111" stroke-width="0.25" transform="translate(25.2 450.8) scale(0.917 1) translate(-25.2 -450.8)">HCT116-OE-CON</text>
<text x="118.1" y="450.8" font-size="8.8" text-anchor="start" fill="#111" stroke="#111" stroke-width="0.25" transform="translate(118.1 450.8) scale(0.91 1) translate(-118.1 -450.8)">HCT116-OE-UVRAG</text>
<defs><linearGradient id="img1" x1="0" y1="0" x2="1" y2="0.25"><stop offset="0" stop-color="#9e9e9e"/><stop offset="0.12" stop-color="#b2b2b2"/><stop offset="0.5" stop-color="#bebebe"/><stop offset="1" stop-color="#c4c4c4"/></linearGradient><linearGradient id="img2" x1="0" y1="0" x2="1" y2="0.1"><stop offset="0" stop-color="#a0a0a0"/><stop offset="0.1" stop-color="#b6b6b6"/><stop offset="0.5" stop-color="#bfbfbf"/><stop offset="1" stop-color="#c2c2c2"/></linearGradient><radialGradient id="sph" cx="0.55" cy="0.55" r="0.6"><stop offset="0" stop-color="#acacac"/><stop offset="0.7" stop-color="#a0a0a0"/><stop offset="1" stop-color="#8e8e8e"/></radialGradient><linearGradient id="rimg" x1="0" y1="0.2" x2="1" y2="0.8"><stop offset="0" stop-color="#555"/><stop offset="0.5" stop-color="#8a8a8a"/><stop offset="1" stop-color="#c4c4c4"/></linearGradient></defs>
<rect x="17.7" y="455.0" width="82.8" height="71.1" fill="url(#img1)" stroke="none" stroke-width="1"/>
<rect x="113.9" y="455.0" width="82.6" height="71.1" fill="url(#img2)" stroke="none" stroke-width="1"/>
<ellipse cx="45.4" cy="460.5" rx="3.0" ry="3.4" fill="url(#sph)" stroke="url(#rimg)" stroke-width="0.9" filter="url(#bl)"/>
<ellipse cx="65" cy="472.2" rx="3.4" ry="4.6" fill="url(#sph)" stroke="url(#rimg)" stroke-width="0.9" filter="url(#bl)"/>
<ellipse cx="23.9" cy="487.4" rx="4.7" ry="4.7" fill="url(#sph)" stroke="url(#rimg)" stroke-width="0.9" filter="url(#bl)"/>
<ellipse cx="42.8" cy="488.7" rx="3.4" ry="3.4" fill="url(#sph)" stroke="url(#rimg)" stroke-width="0.9" filter="url(#bl)"/>
<ellipse cx="33.6" cy="497.1" rx="3.1" ry="3.1" fill="url(#sph)" stroke="url(#rimg)" stroke-width="0.9" filter="url(#bl)"/>
<ellipse cx="61.9" cy="498.4" rx="2.0" ry="2.0" fill="url(#sph)" stroke="url(#rimg)" stroke-width="0.9" filter="url(#bl)"/>
<ellipse cx="52" cy="513.3" rx="2.6" ry="2.6" fill="url(#sph)" stroke="url(#rimg)" stroke-width="0.9" filter="url(#bl)"/>
<ellipse cx="89.4" cy="486.1" rx="1.8" ry="1.8" fill="url(#sph)" stroke="url(#rimg)" stroke-width="0.5" filter="url(#bl)"/>
<ellipse cx="29.7" cy="468.3" rx="1.1" ry="1.1" fill="url(#sph)" stroke="url(#rimg)" stroke-width="0.5" filter="url(#bl)"/>
<ellipse cx="31" cy="474.9" rx="1.4" ry="1.4" fill="url(#sph)" stroke="url(#rimg)" stroke-width="0.5" filter="url(#bl)"/>
<ellipse cx="33.6" cy="482.7" rx="1.1" ry="1.1" fill="url(#sph)" stroke="url(#rimg)" stroke-width="0.5" filter="url(#bl)"/>
<ellipse cx="59.8" cy="508.9" rx="1.0" ry="1.0" fill="url(#sph)" stroke="url(#rimg)" stroke-width="0.5" filter="url(#bl)"/>
<ellipse cx="38" cy="485" rx="1.0" ry="1.0" fill="url(#sph)" stroke="url(#rimg)" stroke-width="0.5" filter="url(#bl)"/>
<ellipse cx="152.3" cy="484.6" rx="6.6" ry="6.6" fill="url(#sph)" stroke="url(#rimg)" stroke-width="0.9" filter="url(#bl)"/>
<ellipse cx="127.8" cy="475.6" rx="4.2" ry="4.2" fill="url(#sph)" stroke="url(#rimg)" stroke-width="0.9" filter="url(#bl)"/>
<ellipse cx="149.2" cy="470.9" rx="3.6" ry="3.2" fill="url(#sph)" stroke="url(#rimg)" stroke-width="0.9" filter="url(#bl)"/>
<ellipse cx="177.2" cy="470.4" rx="3.4" ry="3.4" fill="url(#sph)" stroke="url(#rimg)" stroke-width="0.9" filter="url(#bl)"/>
<ellipse cx="117.8" cy="488.7" rx="3.1" ry="3.1" fill="url(#sph)" stroke="url(#rimg)" stroke-width="0.9" filter="url(#bl)"/>
<ellipse cx="121.8" cy="483.5" rx="2.1" ry="2.1" fill="url(#sph)" stroke="url(#rimg)" stroke-width="0.9" filter="url(#bl)"/>
<ellipse cx="130.4" cy="488.7" rx="1.3" ry="1.3" fill="url(#sph)" stroke="url(#rimg)" stroke-width="0.5" filter="url(#bl)"/>
<ellipse cx="148.5" cy="501" rx="3.1" ry="3.1" fill="url(#sph)" stroke="url(#rimg)" stroke-width="0.9" filter="url(#bl)"/>
<ellipse cx="163.6" cy="507.6" rx="3.9" ry="3.9" fill="url(#sph)" stroke="url(#rimg)" stroke-width="0.9" filter="url(#bl)"/>
<ellipse cx="171" cy="519.3" rx="2.9" ry="2.9" fill="url(#sph)" stroke="url(#rimg)" stroke-width="0.9" filter="url(#bl)"/>
<ellipse cx="126.2" cy="523.8" rx="2.4" ry="2.4" fill="url(#sph)" stroke="url(#rimg)" stroke-width="0.9" filter="url(#bl)"/>
<ellipse cx="161" cy="459.2" rx="1.0" ry="1.0" fill="url(#sph)" stroke="url(#rimg)" stroke-width="0.5" filter="url(#bl)"/>
<ellipse cx="115.2" cy="459.2" rx="0.8" ry="0.8" fill="url(#sph)" stroke="url(#rimg)" stroke-width="0.5" filter="url(#bl)"/>
<ellipse cx="193.7" cy="456.5" rx="0.8" ry="0.8" fill="url(#sph)" stroke="url(#rimg)" stroke-width="0.5" filter="url(#bl)"/>
<text x="92.9" y="521.0" font-size="3.6" text-anchor="middle" fill="#111" stroke="#111" stroke-width="0.25">200μm</text>
<rect x="86.0" y="523.2" width="14" height="1.9" fill="#000" stroke="none" stroke-width="1"/>
<text x="188.9" y="521.0" font-size="3.6" text-anchor="middle" fill="#111" stroke="#111" stroke-width="0.25">200μm</text>
<rect x="182.0" y="523.2" width="14" height="1.9" fill="#000" stroke="none" stroke-width="1"/>
</svg></body></html>
